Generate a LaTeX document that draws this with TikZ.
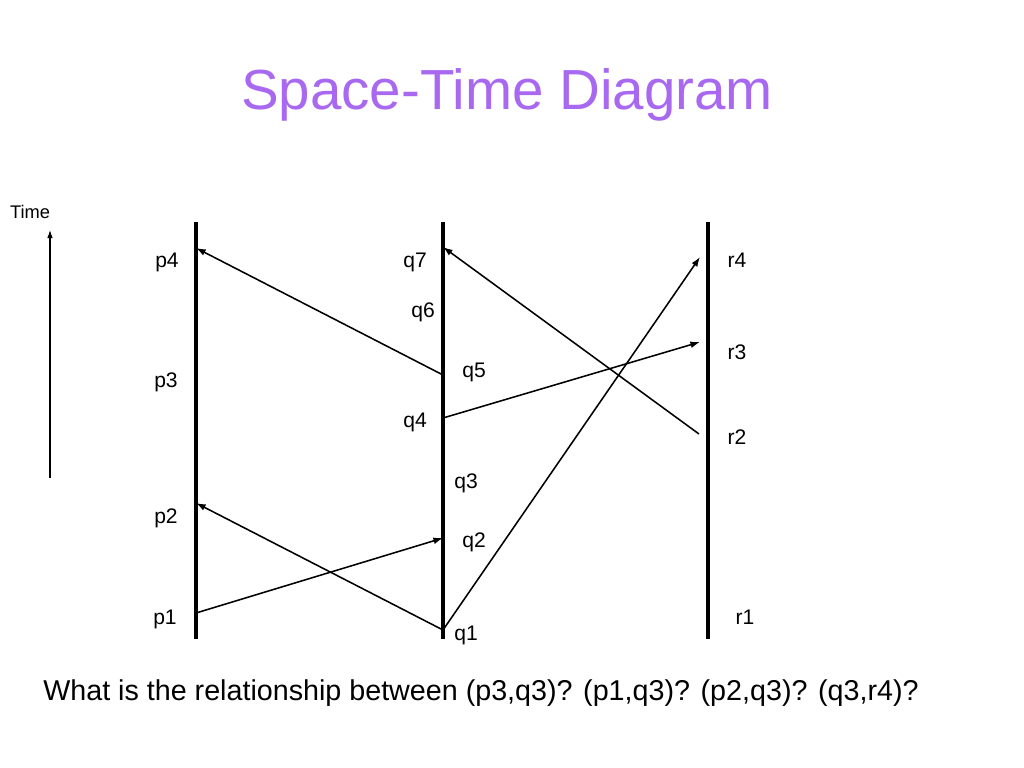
\documentclass[tikz,border=0pt]{standalone}
\usepackage{fontspec}
\setmainfont{Liberation Sans}
\usetikzlibrary{arrows.meta, positioning}
\definecolor{titlepurple}{RGB}{168,104,240}

\begin{document}
\begin{tikzpicture}[x=0.025cm, y=-0.025cm,
    process/.style={line width=3.2pt},
    message/.style={-{Latex[length=2.4mm, width=1.7mm]}, line width=1.1pt},
    event/.style={font=\fontsize{15}{18}\selectfont, inner sep=0pt, anchor=base}]
  \useasboundingbox (0,0) rectangle (1024,768);

  \node [inner sep=0pt, anchor=base] (title) at (507,110) {\fontsize{40.2}{46}\selectfont\color{titlepurple}Space-Time Diagram};

% TIME AXIS

  \node [font=\fontsize{13}{15}\selectfont, inner sep=0pt] (timelabel) at (30,212) {Time};
  \coordinate (timebottom) at (50,478);
  \coordinate (timetop) at (50,230);
  \draw[-{Latex[length=2mm, width=1.4mm]}, line width=0.8pt] (timebottom) -- (timetop);

% PROCESSES

  \coordinate (ptop) at (196,222);
  \coordinate (pbottom) at (196,639);
  \coordinate (qtop) at (443,222);
  \coordinate (qbottom) at (443,639);
  \coordinate (rtop) at (708,222);
  \coordinate (rbottom) at (708,639);

  \draw[process] (ptop) -- (pbottom);
  \draw[process] (qtop) -- (qbottom);
  \draw[process] (rtop) -- (rbottom);

% EVENTS

  \coordinate (p1) at (196,613);
  \coordinate (p2) at (196,503);
  \coordinate (p4) at (196,248);
  \coordinate (q1) at (443,630);
  \coordinate (q2) at (443,538);
  \coordinate (q4) at (443,418);
  \coordinate (q5) at (443,375);
  \coordinate (q7) at (443,247);
  \coordinate (r2) at (699,434);
  \coordinate (r3) at (700,342);
  \coordinate (r4) at (700,257);

  \node [event] (p4label) at (167,267) {p4};
  \node [event] (p3label) at (166,387) {p3};
  \node [event] (p2label) at (166,523) {p2};
  \node [event] (p1label) at (165,624) {p1};

  \node [event] (q7label) at (415,267) {q7};
  \node [event] (q6label) at (423,317) {q6};
  \node [event] (q5label) at (474,377) {q5};
  \node [event] (q4label) at (415,427) {q4};
  \node [event] (q3label) at (466,488) {q3};
  \node [event] (q2label) at (474,547) {q2};
  \node [event] (q1label) at (466,640) {q1};

  \node [event] (r4label) at (737,267) {r4};
  \node [event] (r3label) at (737,359) {r3};
  \node [event] (r2label) at (737,444) {r2};
  \node [event] (r1label) at (745,624) {r1};

% MESSAGES

  \draw[message] (q5) -- (p4);
  \draw[message] (r2) -- (q7);
  \draw[message] (q4) -- (r3);
  \draw[message] (q1) -- (r4);
  \draw[message] (p1) -- (q2);
  \draw[message] (q1) -- (p2);

  \node [font=\fontsize{20.4}{23}\selectfont, inner sep=0pt, anchor=base west] (question) at (43,700)
    {What is the relationship between (p3,q3)? (p1,q3)? (p2,q3)? (q3,r4)?};

\end{tikzpicture}
\end{document}
